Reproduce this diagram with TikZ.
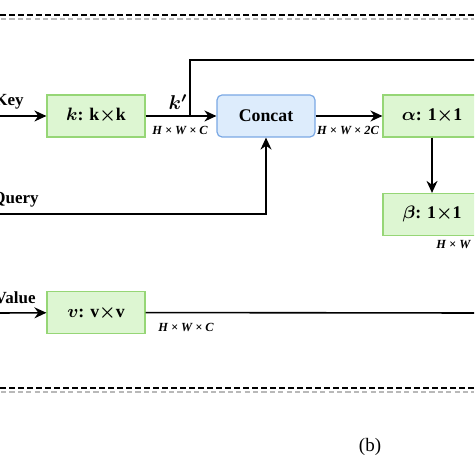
\documentclass[tikz,border=0pt]{standalone}
\usepackage{fontspec}
\setmainfont{Liberation Serif}
\usetikzlibrary{arrows.meta}

\definecolor{boxgreen}{RGB}{221,246,210}
\definecolor{linegreen}{RGB}{150,214,118}
\definecolor{boxblue}{RGB}{221,236,252}
\definecolor{lineblue}{RGB}{122,168,228}

\tikzset{
  convbox/.style={draw=linegreen, fill=boxgreen, line width=0.6pt,
    minimum width=49pt, minimum height=21pt,
    font=\fontsize{8.9}{10}\selectfont\bfseries\boldmath},
  catbox/.style={convbox, draw=lineblue, fill=boxblue, rounded corners=2.5pt},
  inlabel/.style={inner sep=1pt, font=\fontsize{8.5}{10}\selectfont\bfseries},
  dimlabel/.style={inner sep=1pt, font=\fontsize{6.2}{7}\selectfont\bfseries\itshape},
  flow/.style={line width=0.8pt, -{Stealth[length=6pt,width=5.5pt]}},
  wire/.style={line width=0.8pt},
}

\begin{document}
\begin{tikzpicture}[x=0.5pt,y=-0.5pt]
  \useasboundingbox (0,0) rectangle (474,474);
  \clip (0,0) rectangle (474,474);

  % separators
  \draw[gray!55, line width=0.7pt, dash pattern=on 2.6pt off 1.6pt] (1,19) -- (474,19);
  \draw[line width=0.9pt, dash pattern=on 3pt off 1.5pt] (0,15) -- (474,15);
  \draw[gray!55, line width=0.7pt, dash pattern=on 2.6pt off 1.6pt] (1,392) -- (474,392);
  \draw[line width=0.9pt, dash pattern=on 3pt off 1.5pt] (0,388) -- (474,388);

  \node[convbox] (k) at (96,116) {$k$: k$\times$k};
  \node[catbox] (concat) at (266,116) {Concat};
  \node[convbox] (alpha) at (432,116) {$\alpha$: 1$\times$1};
  \node[convbox] (beta) at (432,214.5) {$\beta$: 1$\times$1};
  \node[convbox] (v) at (96,312.5) {$v$: v$\times$v};

  \coordinate (keyin) at (0,116);
  \coordinate (kbr) at (190,116);
  \coordinate (kout) at (480,60);
  \coordinate (qin) at (0,214);
  \coordinate (vin) at (0,313);
  \coordinate (vout) at (480,313);

  \draw[flow] (keyin) -- (k);
  \draw[flow] (k) -- (concat);
  \draw[wire] (kbr) |- (kout);
  \draw[flow] (concat) -- (alpha);
  \draw[flow] (qin) -| (concat);
  \draw[flow] (alpha) -- (beta);
  \draw[flow] (vin) -- (v);
  \draw[wire] (v) -- (vout);

  \node[inlabel, anchor=east] (keylbl) at (26,102) {Key};
  \node[inlabel, anchor=east] (querylbl) at (41,200) {Query};
  \node[inlabel, anchor=east] (valuelbl) at (38,298) {Value};
  \node[font=\fontsize{10}{12}\selectfont\boldmath] (kprime) at (178,102) {$k'$};

  \node[dimlabel] (dimk) at (180,130) {H × W × C};
  \node[dimlabel] (dimcat) at (348,130) {H × W × 2C};
  \node[dimlabel, anchor=west] (dimbeta) at (434,245) {H × W};
  \node[dimlabel] (dimv) at (186,327) {H × W × C};

  \node[font=\fontsize{9.5}{11}\selectfont] (caption) at (370,447) {(b)};
\end{tikzpicture}
\end{document}
